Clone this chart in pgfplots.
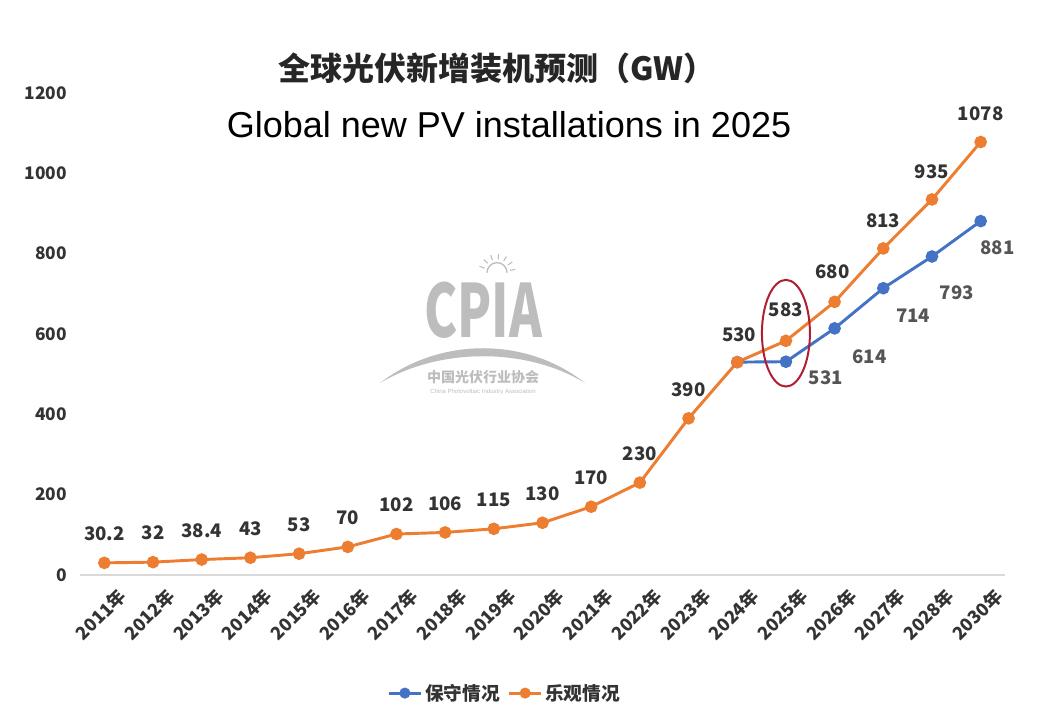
\documentclass[border=0pt]{standalone}
\usepackage{pgfplots}
\pgfplotsset{compat=1.18}
\usepackage{pgfplotstable}
\usepackage{fontspec}
\setmainfont{Liberation Sans}
\newfontfamily\cjk{Noto Sans CJK SC}
\definecolor{cblue}{HTML}{4472C4}
\definecolor{corange}{HTML}{ED7D31}
\definecolor{lab}{HTML}{333333}
\definecolor{labb}{HTML}{555555}
\definecolor{ered}{HTML}{B01E32}
\definecolor{wm}{HTML}{BDBDBD}

\pgfplotstableread{
x y dx dy
0 30.2 0 29
1 32 0 29
2 38.4 0 29
3 43 0 29
4 53 0 29
5 70 0 29
6 102 0 29
7 106 0 29
8 115 0 29
9 130 0 29
10 170 0 29
11 230 0 29
12 390 0 29
13 530 2 27
14 583 0 31
15 680 -2 30
16 813 0 28
17 935 0 28
18 1078 0 28
}\opt
\pgfplotstableread{
x y
13 530
14 531
15 614
16 714
17 793
18 881
}\cons
\pgfplotstableread{
x y dx dy
14 531 40 -16
15 614 35 -28
16 714 30 -28
17 793 25 -36
18 881 17 -27
}\conslab

\begin{document}
\begin{tikzpicture}[x=1pt,y=1pt]
% watermark
\node[text=wm, font=\cjk\bfseries\fontsize{44}{44}\selectfont, xscale=0.85, yscale=1.25] at (362.25,300) {CPIA};
\fill[wm] (285,245.25) .. controls (330,280) and (395,280) .. (438.75,245.25) .. controls (395,272) and (330,272) .. cycle;
\node[text=wm, font=\cjk\bfseries\fontsize{10.5}{10.5}\selectfont] at (362.25,249.75) {中国光伏行业协会};
\node[text=wm, font=\fontsize{4.5}{4.5}\selectfont] at (362.25,238.5) {China Photovoltaic Industry Association};
\draw[wm, line width=1pt] (365.25,328) arc[start angle=180, end angle=0, radius=7.5pt];
\foreach \a in {10,35,...,170} {\draw[wm, line width=0.8pt] (372.75,328) ++(\a:10pt) -- ++(\a:4pt);}
\begin{axis}[
  at={(60pt,101.25pt)}, anchor=south west,
  scale only axis, width=693.75pt, height=361.5pt,
  xmin=-0.5, xmax=18.5, ymin=0, ymax=1200,
  ytick={0,200,...,1200},
  xtick={0,...,18},
  xticklabels={2011年,2012年,2013年,2014年,2015年,2016年,2017年,2018年,2019年,2020年,2021年,2022年,2023年,2024年,2025年,2026年,2027年,2028年,2030年},
  axis x line=bottom, axis y line=left,
  y axis line style={draw=none},
  x axis line style={-, draw=gray!30, line width=1.5pt},
  tick style={draw=none},
  /pgf/number format/.cd, 1000 sep={}, assume math mode=true, /pgfplots/.cd,
  yticklabel style={font=\cjk\bfseries\fontsize{13}{13}\selectfont, text=lab, xshift=-4pt},
  xticklabel style={font=\cjk\bfseries\fontsize{13.5}{13.5}\selectfont, text=lab, rotate=45, anchor=north east, xshift=3pt, yshift=-10pt, inner sep=1pt},
  clip=false,
  legend style={at={(0.4595,-0.245)}, anchor=center, legend columns=2, draw=none, fill=none,
    font=\cjk\bfseries\fontsize{14}{14}\selectfont, text=lab,
    /tikz/every even column/.append style={column sep=4pt}},
  legend image code/.code={\draw[#1, mark size=3pt, mark repeat=2, mark phase=2] plot coordinates {(0pt,0pt)(12pt,0pt)(24pt,0pt)};},
]
\addplot[cblue, line width=2.2pt, mark=*, mark size=3.6pt] table[x=x,y=y] {\cons};
\addlegendentry{保守情况}
\addplot[corange, line width=2.2pt, mark=*, mark size=3.6pt,
  visualization depends on={\thisrow{dx} \as \dx},
  visualization depends on={\thisrow{dy} \as \dy},
  nodes near coords={\pgfmathprintnumber{\pgfplotspointmeta}},
  point meta=explicit,
  every node near coord/.append style={anchor=center, xshift=0.75*\dx pt, yshift=0.75*\dy pt, text=lab, font=\cjk\bfseries\fontsize{14}{14}\selectfont},
] table[x=x,y=y,meta=y] {\opt};
\addlegendentry{乐观情况}
\addplot[draw=none, forget plot,
  visualization depends on={\thisrow{dx} \as \dx},
  visualization depends on={\thisrow{dy} \as \dy},
  nodes near coords={\pgfmathprintnumber{\pgfplotspointmeta}},
  point meta=explicit,
  every node near coord/.append style={anchor=center, xshift=0.75*\dx pt, yshift=0.75*\dy pt, text=labb, font=\cjk\bfseries\fontsize{14}{14}\selectfont},
] table[x=x,y=y,meta=y] {\conslab};
\draw[ered, line width=1.5pt] (axis cs:14,602) ellipse [x radius=18pt, y radius=40pt];
\end{axis}
\node[font=\cjk\bfseries\fontsize{24}{24}\selectfont, text=black!85] at (372.75,481.5) {全球光伏新增装机预测（GW）};
\node[font=\fontsize{27}{27}\selectfont] at (381.75,438.75) {Global new PV installations in 2025};
\pgfresetboundingbox
\path (0,0) rectangle (781.5,532.5);
\end{tikzpicture}
\end{document}
